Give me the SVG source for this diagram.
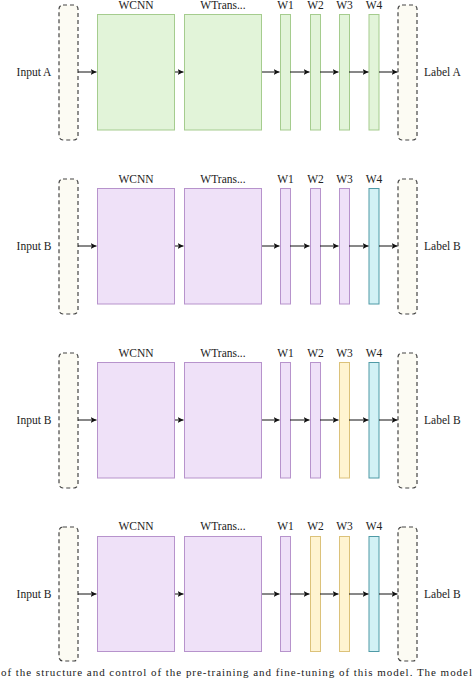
<svg xmlns="http://www.w3.org/2000/svg" width="474" height="679" viewBox="0 0 474 679">
<style>
text{font-family:"Liberation Serif","DejaVu Serif",serif;font-size:11.5px;fill:#222}
.io{fill:#fcfbf3;stroke:#444;stroke-width:1.2;stroke-dasharray:4 3}
.g{fill:#e2f4d9;stroke:#a5cc8e;stroke-width:1}
.p{fill:#efe1f8;stroke:#b793cc;stroke-width:1}
.y{fill:#fff4d1;stroke:#dcc27a;stroke-width:1}
.b{fill:#d2f1f5;stroke:#4f9aa6;stroke-width:1}
.c line{stroke:#111;stroke-width:1;marker-end:url(#ah)}
.m{text-anchor:middle}
</style>
<defs>
<marker id="ah" markerWidth="7" markerHeight="6" refX="6" refY="3" orient="auto" markerUnits="userSpaceOnUse">
<path d="M0,0 L6,3 L0,6 L1.5,3 Z" fill="#111"/>
</marker>
</defs>

<g id="panel1">
<g id="inputA"><rect class="io" x="59" y="5" width="19" height="135" rx="4"/><text x="34" y="76" class="m">Input A</text></g>
<g id="wcnn1"><rect class="g" x="97.5" y="14.5" width="77" height="115.5"/><text x="136" y="8.5" class="m">WCNN</text></g>
<g id="wtrans1"><rect class="g" x="184.5" y="14.5" width="77" height="115.5"/><text x="223" y="8.5" class="m">WTrans...</text></g>
<g id="w1_1"><rect class="g" x="280.5" y="14.5" width="10" height="115.5"/><text x="285.5" y="8.5" class="m">W1</text></g>
<g id="w2_1"><rect class="g" x="310.5" y="14.5" width="10" height="115.5"/><text x="315.5" y="8.5" class="m">W2</text></g>
<g id="w3_1"><rect class="g" x="339.5" y="14.5" width="10" height="115.5"/><text x="344.5" y="8.5" class="m">W3</text></g>
<g id="w4_1"><rect class="g" x="369" y="14.5" width="10" height="115.5"/><text x="374" y="8.5" class="m">W4</text></g>
<g id="labelA"><rect class="io" x="398" y="5" width="19" height="135" rx="4"/><text x="424" y="76">Label A</text></g>
</g>

<g id="panel2">
<g id="inputB2"><rect class="io" x="59" y="179" width="19" height="135" rx="4"/><text x="34" y="250" class="m">Input B</text></g>
<g id="wcnn2"><rect class="p" x="97.5" y="188.5" width="77" height="115.5"/><text x="136" y="182.5" class="m">WCNN</text></g>
<g id="wtrans2"><rect class="p" x="184.5" y="188.5" width="77" height="115.5"/><text x="223" y="182.5" class="m">WTrans...</text></g>
<g id="w1_2"><rect class="p" x="280.5" y="188.5" width="10" height="115.5"/><text x="285.5" y="182.5" class="m">W1</text></g>
<g id="w2_2"><rect class="p" x="310.5" y="188.5" width="10" height="115.5"/><text x="315.5" y="182.5" class="m">W2</text></g>
<g id="w3_2"><rect class="p" x="339.5" y="188.5" width="10" height="115.5"/><text x="344.5" y="182.5" class="m">W3</text></g>
<g id="w4_2"><rect class="b" x="369" y="188.5" width="10" height="115.5"/><text x="374" y="182.5" class="m">W4</text></g>
<g id="labelB2"><rect class="io" x="398" y="179" width="19" height="135" rx="4"/><text x="424" y="250">Label B</text></g>
</g>

<g id="panel3">
<g id="inputB3"><rect class="io" x="59" y="353" width="19" height="135" rx="4"/><text x="34" y="424" class="m">Input B</text></g>
<g id="wcnn3"><rect class="p" x="97.5" y="362.5" width="77" height="115.5"/><text x="136" y="356.5" class="m">WCNN</text></g>
<g id="wtrans3"><rect class="p" x="184.5" y="362.5" width="77" height="115.5"/><text x="223" y="356.5" class="m">WTrans...</text></g>
<g id="w1_3"><rect class="p" x="280.5" y="362.5" width="10" height="115.5"/><text x="285.5" y="356.5" class="m">W1</text></g>
<g id="w2_3"><rect class="p" x="310.5" y="362.5" width="10" height="115.5"/><text x="315.5" y="356.5" class="m">W2</text></g>
<g id="w3_3"><rect class="y" x="339.5" y="362.5" width="10" height="115.5"/><text x="344.5" y="356.5" class="m">W3</text></g>
<g id="w4_3"><rect class="b" x="369" y="362.5" width="10" height="115.5"/><text x="374" y="356.5" class="m">W4</text></g>
<g id="labelB3"><rect class="io" x="398" y="353" width="19" height="135" rx="4"/><text x="424" y="424">Label B</text></g>
</g>

<g id="panel4">
<g id="inputB4"><rect class="io" x="59" y="527" width="19" height="134" rx="4"/><text x="34" y="598" class="m">Input B</text></g>
<g id="wcnn4"><rect class="p" x="97.5" y="536.5" width="77" height="115"/><text x="136" y="530" class="m">WCNN</text></g>
<g id="wtrans4"><rect class="p" x="184.5" y="536.5" width="77" height="115"/><text x="223" y="530" class="m">WTrans...</text></g>
<g id="w1_4"><rect class="p" x="280.5" y="536.5" width="10" height="115"/><text x="285.5" y="530" class="m">W1</text></g>
<g id="w2_4"><rect class="y" x="310.5" y="536.5" width="10" height="115"/><text x="315.5" y="530" class="m">W2</text></g>
<g id="w3_4"><rect class="y" x="339.5" y="536.5" width="10" height="115"/><text x="344.5" y="530" class="m">W3</text></g>
<g id="w4_4"><rect class="b" x="369" y="536.5" width="10" height="115"/><text x="374" y="530" class="m">W4</text></g>
<g id="labelB4"><rect class="io" x="398" y="527" width="19" height="134" rx="4"/><text x="424" y="598">Label B</text></g>
</g>

<g id="connectors" class="c">
<line x1="78" y1="72" x2="96.5" y2="72"/>
<line x1="175" y1="72" x2="183.5" y2="72"/>
<line x1="262" y1="72" x2="279.5" y2="72"/>
<line x1="290" y1="72" x2="309.5" y2="72"/>
<line x1="320" y1="72" x2="338.5" y2="72"/>
<line x1="349" y1="72" x2="368.5" y2="72"/>
<line x1="379" y1="72" x2="397.5" y2="72"/>
<line x1="78" y1="246" x2="96.5" y2="246"/>
<line x1="175" y1="246" x2="183.5" y2="246"/>
<line x1="262" y1="246" x2="279.5" y2="246"/>
<line x1="290" y1="246" x2="309.5" y2="246"/>
<line x1="320" y1="246" x2="338.5" y2="246"/>
<line x1="349" y1="246" x2="368.5" y2="246"/>
<line x1="379" y1="246" x2="397.5" y2="246"/>
<line x1="78" y1="420" x2="96.5" y2="420"/>
<line x1="175" y1="420" x2="183.5" y2="420"/>
<line x1="262" y1="420" x2="279.5" y2="420"/>
<line x1="290" y1="420" x2="309.5" y2="420"/>
<line x1="320" y1="420" x2="338.5" y2="420"/>
<line x1="349" y1="420" x2="368.5" y2="420"/>
<line x1="379" y1="420" x2="397.5" y2="420"/>
<line x1="78" y1="594" x2="96.5" y2="594"/>
<line x1="175" y1="594" x2="183.5" y2="594"/>
<line x1="262" y1="594" x2="279.5" y2="594"/>
<line x1="290" y1="594" x2="309.5" y2="594"/>
<line x1="320" y1="594" x2="338.5" y2="594"/>
<line x1="349" y1="594" x2="368.5" y2="594"/>
<line x1="379" y1="594" x2="397.5" y2="594"/>
</g>

<text x="1" y="676" style="font-size:11px" textLength="471" lengthAdjust="spacing">of the structure and control of the pre-training and fine-tuning of this model. The model</text>
</svg>
